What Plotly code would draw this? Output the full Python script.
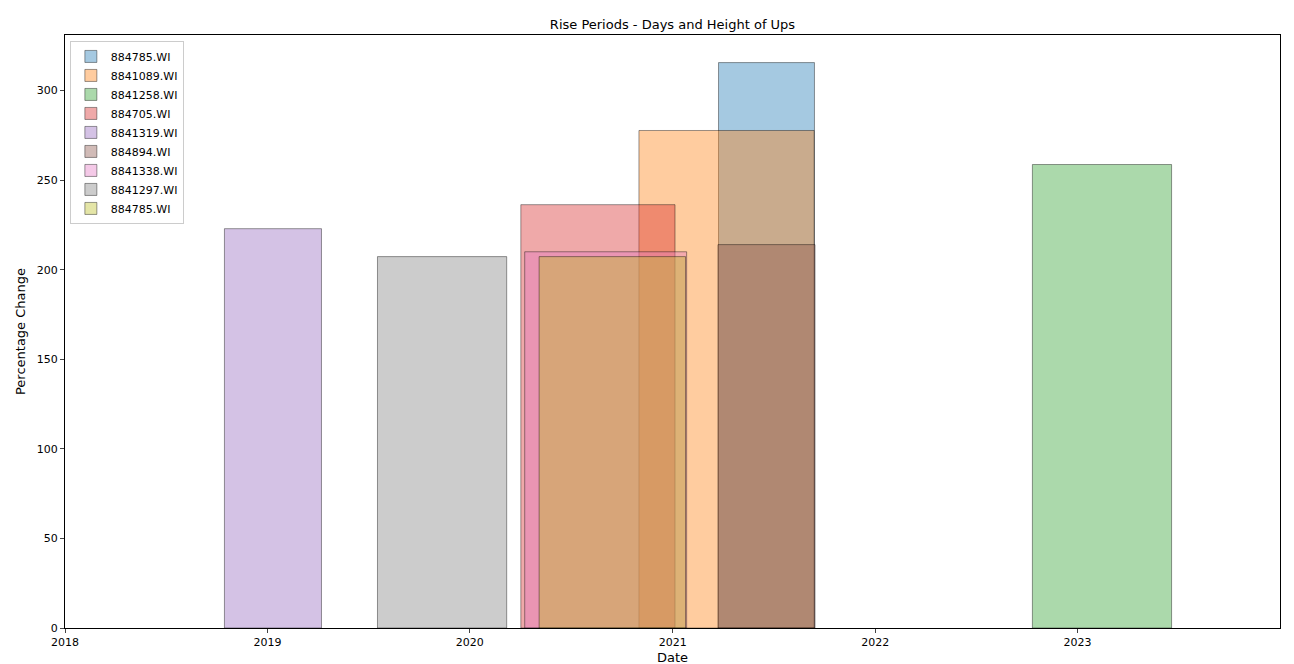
import plotly.graph_objects as go
import pandas as pd

names = ["884785.WI", "8841089.WI", "8841258.WI", "884705.WI", "8841319.WI",
         "884894.WI", "8841338.WI", "8841297.WI", "884785.WI"]
centers = ["2021-06-19", "2021-04-08", "2023-02-14", "2020-08-19", "2019-01-11",
           "2021-06-19", "2020-09-02", "2019-11-12", "2020-09-14"]
width_days = [173, 316, 251, 278, 175, 175, 292, 233, 264]
heights = [315.6, 277.7, 258.7, 236.3, 222.9, 214.0, 210.0, 207.3, 207.3]
colors = ["31,119,180", "255,127,14", "44,160,44", "214,39,40", "148,103,189",
          "140,86,75", "227,119,194", "127,127,127", "188,189,34"]

fig = go.Figure()
for n, c, w, h, col in zip(names, centers, width_days, heights, colors):
    fig.add_trace(go.Bar(
        x=[pd.Timestamp(c)], y=[h], width=[w * 86400000], name=n,
        marker=dict(color=f"rgba({col},0.4)", line=dict(color="rgba(0,0,0,0.4)", width=1)),
    ))

fig.update_layout(
    width=1294, height=664, barmode="overlay",
    margin=dict(l=57, r=22, t=27, b=44, autoexpand=False),
    plot_bgcolor="white", paper_bgcolor="white",
    font=dict(family="DejaVu Sans", size=11, color="black"),
    title=dict(text="Rise Periods - Days and Height of Ups", x=0.5, xanchor="center",
               xref="paper", yref="container", y=1 - 16 / 664, yanchor="middle",
               font=dict(size=13)),
    legend=dict(x=0.004, y=0.99, xanchor="left", yanchor="top",
                bordercolor="#cccccc", borderwidth=1, bgcolor="rgba(255,255,255,0.8)",
                font=dict(size=11), tracegroupgap=0, itemwidth=30),
    showlegend=True,
)
fig.update_xaxes(type="date", range=["2018-01-01", "2024-01-01"], automargin=False,
                 tickvals=["2018-01-01", "2019-01-01", "2020-01-01", "2021-01-01", "2022-01-01", "2023-01-01"],
                 ticktext=["2018", "2019", "2020", "2021", "2022", "2023"],
                 ticks="outside", ticklen=4, showline=True, linecolor="black", mirror=True,
                 showgrid=False, title=dict(text="Date", standoff=4))
fig.update_yaxes(range=[0, 331], tickvals=[0, 50, 100, 150, 200, 250, 300], automargin=False,
                 ticks="outside", ticklen=4, showline=True, linecolor="black", mirror=True,
                 showgrid=False, zeroline=False, title=dict(text="Percentage Change", standoff=8))
fig.write_html("out.html")
